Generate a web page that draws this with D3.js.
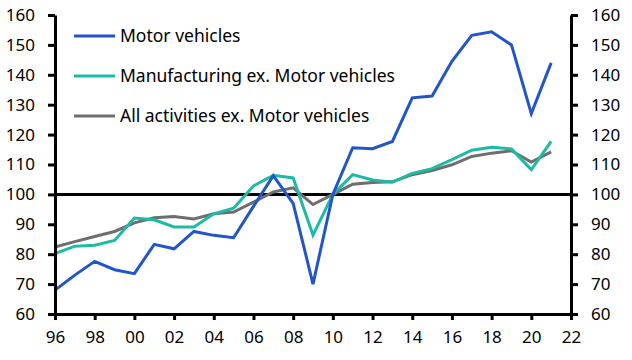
<!DOCTYPE html>
<html><head><meta charset="utf-8">
<script src="https://cdn.jsdelivr.net/npm/d3@7"></script>
<style>
body{margin:0;background:#fff;}
svg text{font-family:"Noto Sans",sans-serif;fill:#000;}
</style></head>
<body><svg id="c" width="632" height="360"></svg>
<script>
const years = d3.range(1996, 2022);
const motorVehicles = [68, 73, 77.6, 74.8, 73.5, 83.3, 81.8, 87.6, 86.3, 85.5, 96, 106.3, 97, 70, 100, 115.6, 115.3, 117.7, 132.3, 132.9, 144.5, 153.2, 154.4, 150, 127, 144];
const manufacturingExMV = [80.2, 82.7, 83, 84.6, 92.1, 91.5, 89.1, 89.1, 93.5, 95.4, 102.8, 106.4, 105.5, 86.4, 100, 106.6, 104.8, 104.1, 107, 108.6, 111.6, 114.8, 115.8, 115.2, 108.3, 117.7];
const allActivitiesExMV = [82.4, 84.2, 85.9, 87.6, 90.5, 92.2, 92.6, 91.8, 93.5, 94.1, 97.4, 100.8, 102.2, 96.6, 100, 103.4, 104, 104.2, 106.6, 108, 109.9, 112.7, 113.8, 114.6, 110.8, 114.2];
const seriesNames = ["Motor vehicles", "Manufacturing ex. Motor vehicles", "All activities ex. Motor vehicles"];
const seriesColors = ["#2255cc", "#1dbba6", "#6e6e6e"];
const yTicks = [60, 70, 80, 90, 100, 110, 120, 130, 140, 150, 160];
const xTicks = d3.range(1996, 2023, 2);

const svg = d3.select("#c");
const L = 55, R = 571, T = 15, B = 314;
const x = d3.scaleLinear().domain([1996, 2022]).range([L, R]);
const y = d3.scaleLinear().domain([60, 160]).range([B, T]);

// 100 reference line
svg.append("line").attr("x1", L).attr("x2", R).attr("y1", y(100)).attr("y2", y(100))
  .attr("stroke", "#000").attr("stroke-width", 3);

const data = [motorVehicles, manufacturingExMV, allActivitiesExMV];
const line = d3.line().x((d, i) => x(years[i])).y(d => y(d));
[2, 1, 0].forEach(k => {
  svg.append("path").datum(data[k]).attr("d", line)
    .attr("fill", "none").attr("stroke", seriesColors[k]).attr("stroke-width", 3)
    .attr("stroke-linejoin", "miter");
});

function styleAxis(g) {
  g.selectAll("path").attr("stroke", "#000").attr("stroke-width", 3);
  g.selectAll("line").attr("stroke", "#000").attr("stroke-width", 3);
  g.selectAll("text").style("font-size", "17px").attr("fill", "#000");
}
svg.append("g").attr("transform", `translate(${L},0)`)
  .call(d3.axisLeft(y).tickValues(yTicks).tickSize(7).tickPadding(13).tickSizeOuter(0))
  .call(styleAxis);
svg.append("g").attr("transform", `translate(${R},0)`)
  .call(d3.axisRight(y).tickValues(yTicks).tickSize(7).tickPadding(13).tickSizeOuter(0))
  .call(styleAxis);
svg.append("g").attr("transform", `translate(0,${B})`)
  .call(d3.axisBottom(x).tickValues(xTicks).tickSize(6).tickPadding(11).tickSizeOuter(0)
    .tickFormat(d => String(d % 100).padStart(2, "0")))
  .call(styleAxis);

// legend
seriesNames.forEach((n, i) => {
  const ly = 36 + i * 40;
  svg.append("line").attr("x1", 74).attr("x2", 115).attr("y1", ly).attr("y2", ly)
    .attr("stroke", seriesColors[i]).attr("stroke-width", 3);
  svg.append("text").attr("x", 120).attr("y", ly).attr("dy", "0.35em")
    .style("font-size", "17.5px").text(n);
});
</script></body></html>
